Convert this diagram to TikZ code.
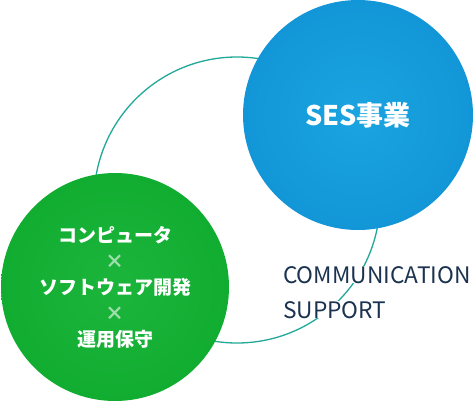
\documentclass[tikz,border=0pt]{standalone}
\usepackage{fontspec}
\setmainfont{Noto Sans CJK JP}
\usepackage{tikz}

\definecolor{sesblue}{HTML}{1296D7}
\definecolor{sesblueinner}{HTML}{1AA4E0}
\definecolor{devgreen}{HTML}{11AD31}
\definecolor{devgreeninner}{HTML}{1BB53B}
\definecolor{ringteal}{HTML}{22A89A}
\definecolor{commnavy}{HTML}{1B3350}

\tikzset{
  bubble/.style={circle, inner sep=0pt, text=white, font=\bfseries},
  commline/.style={anchor=base west, inner sep=0pt, fill=white, text=commnavy,
    font=\fontsize{22.7}{23}\selectfont}
}

\begin{document}
\begin{tikzpicture}[x=1pt, y=-1pt]

\useasboundingbox (0,0) rectangle (474,400);

\fill[white] (0,0) rectangle (474,400);

\draw[ringteal, line width=1.3pt] (237,200) circle[radius=143pt];

\node[bubble, minimum size=230pt, inner color=sesblueinner, outer color=sesblue,
  font=\bfseries\fontsize{27}{27}\selectfont] (ses) at (358,115) {SES事業};

\node[bubble, minimum size=228pt, inner color=devgreeninner, outer color=devgreen,
  align=center, font=\bfseries\fontsize{19}{26}\selectfont] (dev) at (115,287)
  {コンピュータ\\{\color{white!60!devgreen}×}\\ソフトウェア開発\\{\color{white!60!devgreen}×}\\運用保守};

\node[commline] (comm) at (283,283) {COMMUNICATION};
\node[commline] (support) at (283,318) {SUPPORT};

\end{tikzpicture}
\end{document}
